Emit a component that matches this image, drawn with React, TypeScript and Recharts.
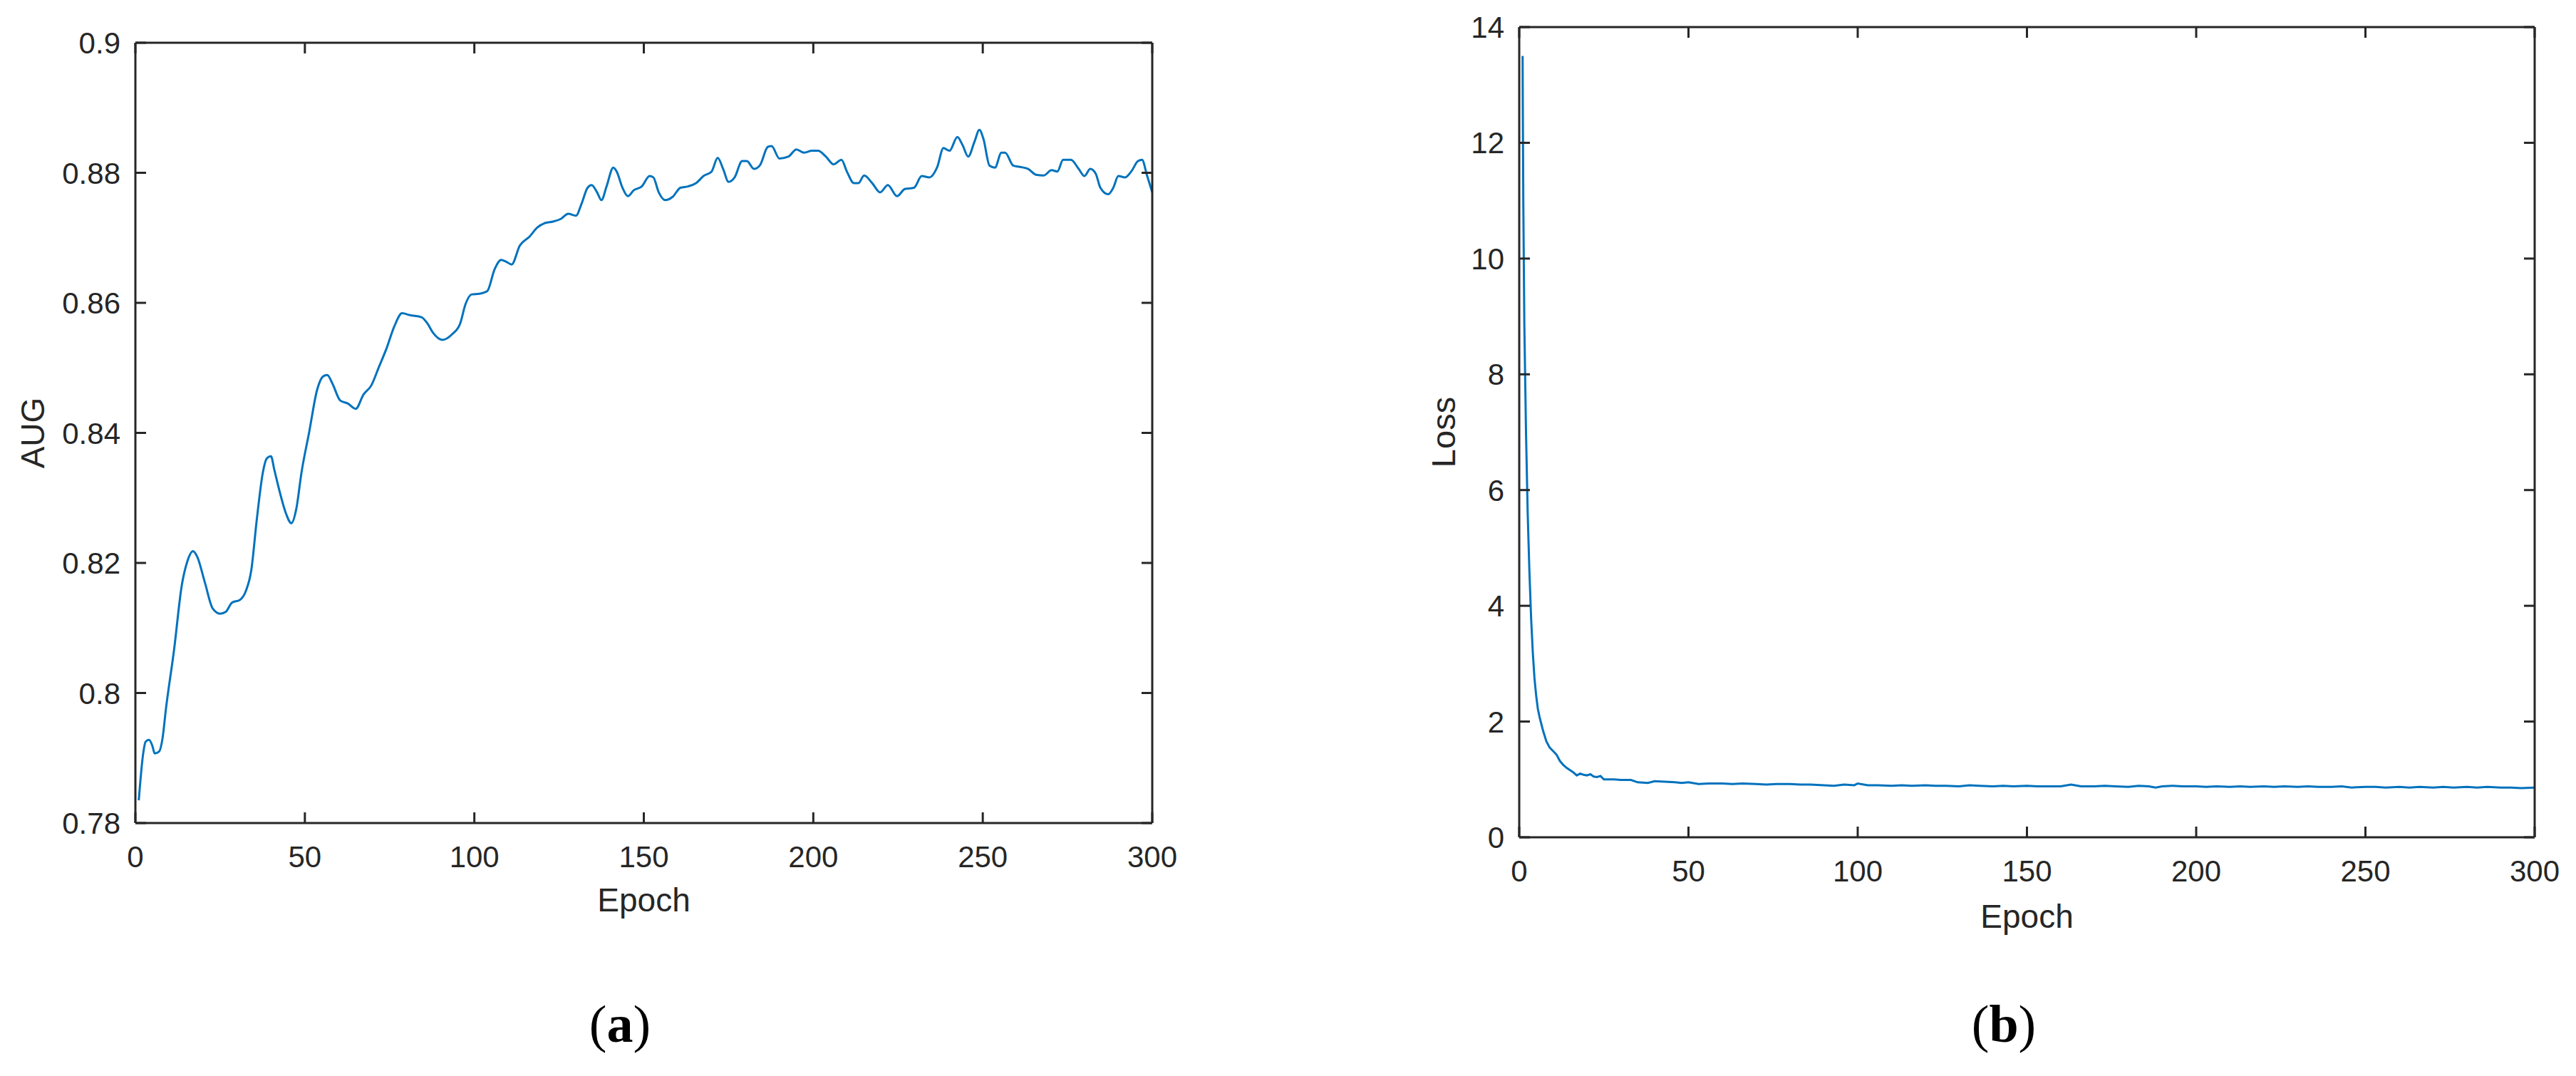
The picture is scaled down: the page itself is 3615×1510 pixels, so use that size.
import React from 'react';
import { LineChart, Line, XAxis, YAxis, Label } from 'recharts';

// AUG per epoch
const aucEpochs = [
  1, 2.3, 3, 4, 5, 5.7, 7, 8, 9, 11.4, 13.7, 15.3, 17, 18.2, 20.5, 22.8, 25, 26.7, 28.5, 30.8,
  32.6, 34.2, 35.8, 37.6, 38.8, 40, 41, 42.7, 44.5, 46, 47.5, 49, 51.3, 53.6, 55.4, 56.6, 58.2, 60.4,
  62.7, 65, 67.3, 69.6, 71.9, 74.1, 76.4, 78.7, 81, 84.4, 86.2, 87.8, 90.6, 93.5, 95.8, 97.4, 99.2,
  101.5, 103.8, 106, 107.9, 109.5, 111, 113.4, 116.3, 118.6, 121, 123.2, 125.5, 127.7, 130, 131.6,
  133.4, 134.6, 136.2, 137.5, 139, 141, 142, 143.7, 145.3, 147, 149.4, 151.7, 152.8, 154.4, 156.3,
  158.5, 160.8, 163, 165.4, 167.6, 170, 171.8, 173.4, 175, 176.8, 179, 180.4, 182.5, 184.3, 186.6,
  187.7, 190, 192.7, 195, 197.3, 199.6, 201.4, 203.7, 206, 208.3, 209.9, 212, 213.3, 215, 217.4,
  219.7, 222, 224.7, 227, 229.7, 232, 234.3, 236.5, 238.4, 240.2, 242.5, 244, 245.7, 247.5, 249,
  250.2, 252, 253.6, 255.5, 256.6, 259, 261, 263.4, 265.7, 268, 270.3, 272, 273.7, 276, 278.3, 280,
  281.7, 283.3, 284.7, 287, 288.5, 290, 292, 293.8, 295.8, 297, 298.4, 300,
];
const aucValues = [
  0.7835, 0.7907, 0.7925, 0.7928, 0.7919, 0.7907, 0.791, 0.793, 0.7975, 0.8066, 0.8166, 0.8202,
  0.8218, 0.821, 0.817, 0.813, 0.8122, 0.8125, 0.8139, 0.8143, 0.8157, 0.8189, 0.8266, 0.8339,
  0.8361, 0.8364, 0.8343, 0.8307, 0.8275, 0.8261, 0.8284, 0.8339, 0.8402, 0.8466, 0.8487, 0.8489,
  0.8475, 0.845, 0.8445, 0.8437, 0.8459, 0.8473, 0.8502, 0.853, 0.8564, 0.8584, 0.8581, 0.8578,
  0.8568, 0.8554, 0.8543, 0.8552, 0.8568, 0.8598, 0.8613, 0.8614, 0.8618, 0.8652, 0.8666, 0.8663,
  0.8659, 0.8688, 0.8702, 0.8716, 0.8723, 0.8725, 0.8729, 0.8737, 0.8734, 0.8752, 0.8777, 0.8781,
  0.877, 0.8758, 0.8779, 0.8808, 0.8802, 0.8777, 0.8764, 0.8773, 0.8779, 0.8795, 0.8793, 0.877,
  0.8758, 0.8763, 0.8777, 0.8779, 0.8784, 0.8795, 0.8802, 0.8823, 0.8806, 0.8786, 0.8793, 0.8818,
  0.8818, 0.8806, 0.8812, 0.884, 0.8841, 0.8822, 0.8825, 0.8836, 0.8831, 0.8834, 0.8834, 0.8825,
  0.8813, 0.882, 0.8802, 0.8784, 0.8784, 0.8796, 0.8784, 0.877, 0.8781, 0.8764, 0.8775, 0.8777,
  0.8795, 0.8793, 0.8808, 0.8838, 0.8834, 0.8855, 0.8843, 0.8825, 0.8847, 0.8866, 0.8852, 0.8811,
  0.8808, 0.8831, 0.8831, 0.8811, 0.8809, 0.8806, 0.8797, 0.8796, 0.8804, 0.8802, 0.882, 0.882,
  0.8806, 0.8795, 0.8806, 0.8799, 0.8777, 0.8767, 0.8777, 0.8795, 0.8793, 0.8802, 0.8818, 0.882,
  0.8797, 0.877,
];

// Loss per epoch
const lossEpochs = [
  1, 1.05, 1.2, 1.5, 2, 2.5, 3, 3.5, 4, 4.5, 5, 5.5, 6, 7, 8, 9, 10, 11, 12, 13, 14, 15, 16, 17,
  18, 19, 20, 21, 22, 23, 24, 25, 28, 30, 33, 35, 38, 40, 43, 46, 48, 50, 53, 56, 60, 63, 66, 70,
  73, 76, 80, 83, 86, 90, 93, 96, 99, 100, 103, 106, 110, 113, 116, 120, 123, 126, 130, 133, 136,
  140, 143, 146, 150, 153, 156, 160, 163, 166, 170, 173, 176, 180, 183, 186, 188, 190, 193, 196,
  200, 203, 206, 210, 213, 216, 220, 223, 226, 230, 233, 236, 240, 243, 246, 250, 253, 256, 260,
  263, 266, 270, 273, 276, 280, 283, 286, 290, 293, 296, 300,
];
const lossValues = [
  13.5, 12.7, 11.0, 8.9, 7.0, 5.6, 4.6, 3.8, 3.2, 2.75, 2.45, 2.22, 2.08, 1.85, 1.66, 1.55, 1.49,
  1.43, 1.32, 1.25, 1.2, 1.16, 1.12, 1.07, 1.1, 1.08, 1.07, 1.09, 1.05, 1.04, 1.06, 1.0, 1.0, 0.99,
  0.99, 0.95, 0.94, 0.97, 0.96, 0.95, 0.94, 0.95, 0.92, 0.93, 0.93, 0.92, 0.93, 0.92, 0.91, 0.92,
  0.92, 0.91, 0.91, 0.9, 0.89, 0.91, 0.9, 0.93, 0.9, 0.9, 0.89, 0.9, 0.89, 0.9, 0.89, 0.89, 0.88,
  0.9, 0.89, 0.88, 0.89, 0.88, 0.89, 0.88, 0.88, 0.88, 0.91, 0.88, 0.88, 0.89, 0.88, 0.87, 0.89,
  0.88, 0.86, 0.88, 0.89, 0.88, 0.88, 0.87, 0.88, 0.87, 0.88, 0.87, 0.88, 0.87, 0.88, 0.87, 0.88,
  0.87, 0.87, 0.88, 0.86, 0.87, 0.87, 0.86, 0.87, 0.86, 0.87, 0.86, 0.87, 0.86, 0.87, 0.86, 0.87,
  0.86, 0.86, 0.85, 0.86,
];

const epochTicks = [0, 50, 100, 150, 200, 250, 300];
const aucTicks = [0.78, 0.8, 0.82, 0.84, 0.86, 0.88, 0.9];
const aucTickLabels = ['0.78', '0.8', '0.82', '0.84', '0.86', '0.88', '0.9'];
const lossTicks = [0, 2, 4, 6, 8, 10, 12, 14];
const lossTickLabels = ['0', '2', '4', '6', '8', '10', '12', '14'];

const AXIS = '#262626';
const LINE = '#0072BD';
const SANS = '"Liberation Sans", Arial, Helvetica, sans-serif';
const SERIF = '"Liberation Serif", "Times New Roman", serif';
const TICK_LEN = 15;

const aucData = aucEpochs.map((e, i) => ({ epoch: e, value: aucValues[i] }));
const lossData = lossEpochs.map((e, i) => ({ epoch: e, value: lossValues[i] }));

type Side = 'bottom' | 'top' | 'left' | 'right';

// MATLAB-style inward tick; with tickSize/tickMargin 0 recharts hands us the point on the axis line
const makeTick = (side: Side, fontSize: number, fmt?: (v: number) => string) => (props: any) => {
  const { x, y, payload } = props;
  const mark =
    side === 'bottom' ? [x, y, x, y - TICK_LEN] :
    side === 'top' ? [x, y, x, y + TICK_LEN] :
    side === 'left' ? [x, y, x + TICK_LEN, y] :
    [x, y, x - TICK_LEN, y];
  return (
    <g>
      <line x1={mark[0]} y1={mark[1]} x2={mark[2]} y2={mark[3]} stroke={AXIS} strokeWidth={3} />
      {side === 'bottom' && (
        <text x={x} y={y + 32 + fontSize * 0.716} textAnchor="middle" fontSize={fontSize} fontFamily={SANS} fill={AXIS}>
          {fmt ? fmt(payload.value) : payload.value}
        </text>
      )}
      {side === 'left' && (
        <text x={x - 21} y={y + fontSize * 0.358} textAnchor="end" fontSize={fontSize} fontFamily={SANS} fill={AXIS}>
          {fmt ? fmt(payload.value) : payload.value}
        </text>
      )}
    </g>
  );
};

interface PanelProps {
  data: { epoch: number; value: number }[];
  yDomain: [number, number];
  yTicks: number[];
  yTickLabels: string[];
  yLabel: string;
  curve: 'monotone' | 'linear';
  left: number;
  top: number;
  width: number;
  height: number;
  margin: { top: number; right: number; bottom: number; left: number };
  tickFont: number;
  labelFont: number;
  yLabelFont: number;
  xLabelGap: number; // axis line -> baseline of "Epoch"
  yLabelGap: number; // axis line -> baseline of rotated y title
}

const Panel: React.FC<PanelProps> = (p) => {
  const lineStyle = { stroke: AXIS, strokeWidth: 3 };
  const yFmt = (v: number) => {
    const i = p.yTicks.findIndex((t) => Math.abs(t - v) < 1e-9);
    return i >= 0 ? p.yTickLabels[i] : String(v);
  };
  return (
    <div style={{ position: 'absolute', left: p.left, top: p.top }}>
      <LineChart width={p.width} height={p.height} data={p.data} margin={p.margin}>
        <XAxis
          xAxisId="bottom"
          dataKey="epoch"
          type="number"
          domain={[0, 300]}
          ticks={epochTicks}
          interval={0}
          orientation="bottom"
          height={100}
          tickSize={0}
          tickMargin={0}
          tickLine={false}
          tick={makeTick('bottom', p.tickFont)}
          axisLine={lineStyle}
        >
          <Label
            content={({ viewBox }: any) => (
              <text
                x={viewBox.x + viewBox.width / 2}
                y={viewBox.y + p.xLabelGap}
                textAnchor="middle"
                fontSize={p.labelFont}
                fontFamily={SANS}
                fill={AXIS}
              >
                Epoch
              </text>
            )}
          />
        </XAxis>
        {/* mirrored top axis: box edge + inward ticks, no labels */}
        <XAxis
          xAxisId="top"
          dataKey="epoch"
          type="number"
          domain={[0, 300]}
          ticks={epochTicks}
          interval={0}
          orientation="top"
          height={1}
          tickSize={0}
          tickMargin={0}
          tickLine={false}
          tick={makeTick('top', p.tickFont)}
          axisLine={lineStyle}
        />
        <YAxis
          yAxisId="left"
          type="number"
          domain={p.yDomain}
          ticks={p.yTicks}
          interval={0}
          orientation="left"
          width={170}
          tickSize={0}
          tickMargin={0}
          tickLine={false}
          tick={makeTick('left', p.tickFont, yFmt)}
          axisLine={lineStyle}
        >
          <Label
            content={({ viewBox }: any) => {
              const x = viewBox.x + viewBox.width - p.yLabelGap;
              const y = viewBox.y + viewBox.height / 2;
              return (
                <text
                  x={x}
                  y={y}
                  transform={`rotate(-90 ${x} ${y})`}
                  textAnchor="middle"
                  fontSize={p.yLabelFont}
                  fontFamily={SANS}
                  fill={AXIS}
                >
                  {p.yLabel}
                </text>
              );
            }}
          />
        </YAxis>
        {/* mirrored right axis */}
        <YAxis
          yAxisId="right"
          type="number"
          domain={p.yDomain}
          ticks={p.yTicks}
          interval={0}
          orientation="right"
          width={1}
          tickSize={0}
          tickMargin={0}
          tickLine={false}
          tick={makeTick('right', p.tickFont)}
          axisLine={lineStyle}
        />
        <Line
          xAxisId="bottom"
          yAxisId="left"
          type={p.curve}
          dataKey="value"
          stroke={LINE}
          strokeWidth={3}
          dot={false}
          isAnimationActive={false}
        />
        {/* invisible copy so the mirrored axes get a series of their own */}
        <Line
          xAxisId="top"
          yAxisId="right"
          type={p.curve}
          dataKey="value"
          stroke="none"
          dot={false}
          activeDot={false}
          legendType="none"
          isAnimationActive={false}
        />
      </LineChart>
    </div>
  );
};

export default function App() {
  return (
    <div
      style={{
        position: 'absolute',
        left: 0,
        top: 0,
        width: 3615,
        height: 1510,
        background: '#fff',
        overflow: 'hidden',
      }}
    >
      <Panel
        data={aucData}
        yDomain={[0.78, 0.9]}
        yTicks={aucTicks}
        yTickLabels={aucTickLabels}
        yLabel="AUG"
        curve="monotone"
        left={0}
        top={0}
        width={1700}
        height={1300}
        margin={{ top: 59, right: 82, bottom: 45, left: 20 }}
        tickFont={42}
        labelFont={46}
        yLabelFont={46}
        xLabelGap={124}
        yLabelGap={128}
      />
      <Panel
        data={lossData}
        yDomain={[0, 14]}
        yTicks={lossTicks}
        yTickLabels={lossTickLabels}
        yLabel="Loss"
        curve="linear"
        left={1900}
        top={0}
        width={1715}
        height={1320}
        margin={{ top: 37, right: 57, bottom: 45, left: 62 }}
        tickFont={42}
        labelFont={46}
        yLabelFont={47}
        xLabelGap={127}
        yLabelGap={90}
      />
      <svg
        width={3615}
        height={1510}
        style={{ position: 'absolute', left: 0, top: 0, pointerEvents: 'none' }}
      >
        <text x={870} y={1462} textAnchor="middle" fontSize={74} fontFamily={SERIF} fill="#000">
          (<tspan fontWeight="bold">a</tspan>)
        </text>
        <text x={2812} y={1462} textAnchor="middle" fontSize={74} fontFamily={SERIF} fill="#000">
          (<tspan fontWeight="bold">b</tspan>)
        </text>
      </svg>
    </div>
  );
}
